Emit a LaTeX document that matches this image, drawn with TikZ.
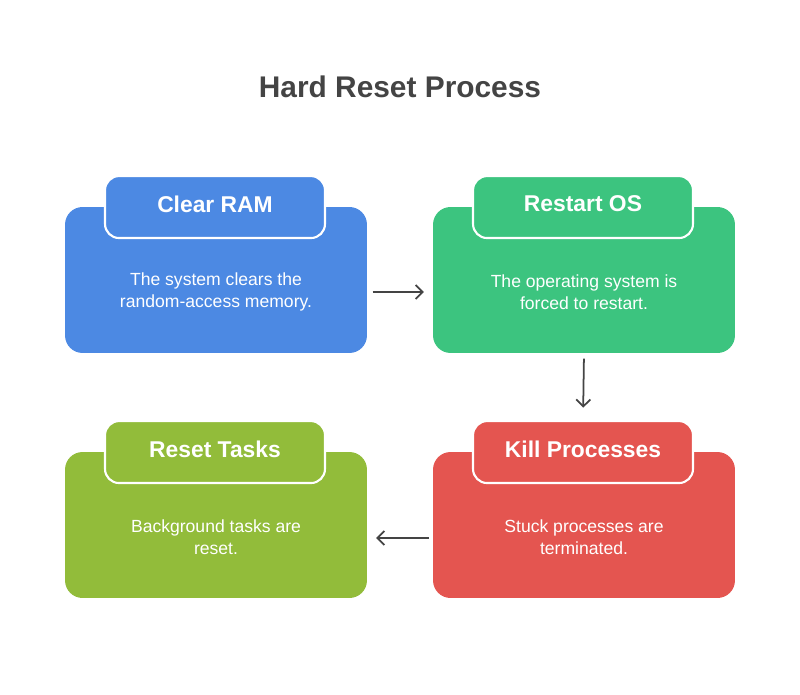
\documentclass[tikz,border=0pt]{standalone}
\usepackage{fontspec}
\setmainfont{Liberation Sans}
\usetikzlibrary{positioning,arrows.meta}
\definecolor{cblue}{HTML}{4C89E3}
\definecolor{cgreen}{HTML}{3CC47F}
\definecolor{cred}{HTML}{E45550}
\definecolor{colive}{HTML}{92BC3A}
\definecolor{ink}{HTML}{444444}
\tikzset{
  card/.style={rounded corners=10pt, minimum width=6.04cm, minimum height=2.92cm, inner sep=0pt},
  tab/.style={rounded corners=8pt, draw=white, line width=1.2pt, minimum width=4.4cm, minimum height=1.24cm, text=white, font=\fontsize{13}{15}\selectfont\bfseries},
  desc/.style={text=white, align=center, font=\fontsize{10}{12.5}\selectfont},
  flow/.style={-{Straight Barb[length=4pt]}, line width=1pt, draw=ink}
}
\begin{document}
\begin{tikzpicture}[x=0.02cm,y=-0.02cm]
	\useasboundingbox (0,0) rectangle (800,695);
	\node[text=ink, font=\fontsize{17}{20}\selectfont\bfseries] (title) at (400,87) {Hard Reset Process};

	% top row
	\node[card, fill=cblue] (ram) at (216,280) {};
	\node[tab, fill=cblue, anchor=north] (ramtab) at (215,175) {};
	\node[text=white, font=\fontsize{13}{15}\selectfont\bfseries] at (215,204) {Clear RAM};
	\node[desc] at (216,292) {The system clears the\\random-access memory.};

	\node[card, fill=cgreen] (os) at (584,280) {};
	\node[tab, fill=cgreen, anchor=north] (ostab) at (583,175) {};
	\node[text=white, font=\fontsize{13}{15}\selectfont\bfseries] at (583,204) {Restart OS};
	\node[desc] at (584,292) {The operating system is\\forced to restart.};

	% bottom row
	\node[card, fill=colive] (tasks) at (216,525) {};
	\node[tab, fill=colive, anchor=north] (taskstab) at (215,420) {};
	\node[text=white, font=\fontsize{13}{15}\selectfont\bfseries] at (215,449) {Reset Tasks};
	\node[desc] at (216,537) {Background tasks are\\reset.};

	\node[card, fill=cred] (kill) at (584,525) {};
	\node[tab, fill=cred, anchor=north] (killtab) at (583,420) {};
	\node[text=white, font=\fontsize{13}{15}\selectfont\bfseries] at (583,449) {Kill Processes};
	\node[desc] at (584,537) {Stuck processes are\\terminated.};

	\draw[flow, shorten <=3pt, shorten >=5pt] (ram.east |- 0,292) -- (os.west |- 0,292);
	\draw[flow, shorten <=3pt, shorten >=7pt] (os.south) -- (killtab.north);
	\draw[flow, shorten <=2pt, shorten >=5pt] (kill.west |- 0,538) -- (tasks.east |- 0,538);
\end{tikzpicture}
\end{document}
